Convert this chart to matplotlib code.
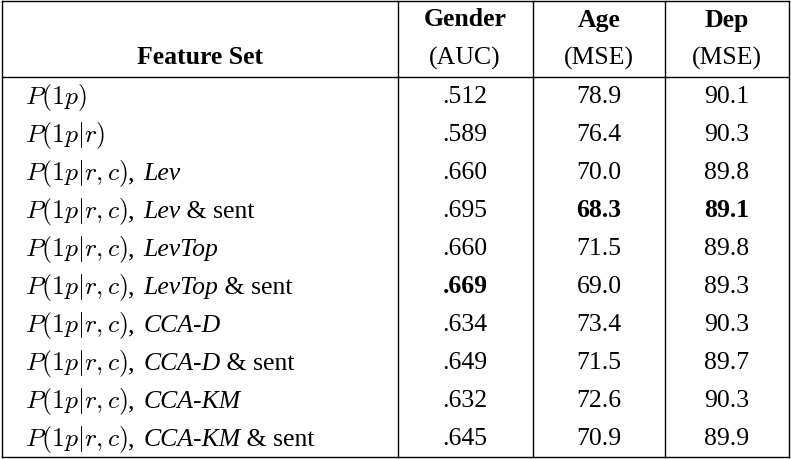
import matplotlib
matplotlib.use("Agg")
import matplotlib.pyplot as plt

plt.rcParams['font.family'] = ['Liberation Serif']
plt.rcParams['mathtext.fontset'] = 'cm'

math_part = [r"$P(1p)$", r"$P(1p|r)$"] + [r"$P(1p|r,c)$"] * 8
method = ["", "", "Lev", "Lev", "LevTop", "LevTop", "CCA-D", "CCA-D", "CCA-KM", "CCA-KM"]
suffix = ["", "", "", " & sent", "", " & sent", "", " & sent", "", " & sent"]
gender = [".512", ".589", ".660", ".695", ".660", ".669", ".634", ".649", ".632", ".645"]
age = ["78.9", "76.4", "70.0", "68.3", "71.5", "69.0", "73.4", "71.5", "72.6", "70.9"]
dep = ["90.1", "90.3", "89.8", "89.1", "89.8", "89.3", "90.3", "89.7", "90.3", "89.9"]
bold = {(0, 5), (1, 3), (2, 3)}

fig = plt.figure(figsize=(7.91, 4.60), dpi=100)
ax = fig.add_axes([0, 0, 1, 1])
ax.set_xlim(0, 791); ax.set_ylim(460, 0); ax.axis('off')
lw = 1.0
for y in [2, 78, 458]:
    ax.plot([2, 789], [y, y], color='black', lw=lw)
for x in [2, 398, 533, 665, 789]:
    ax.plot([x, x], [2, 458], color='black', lw=lw)

fs = 18.5
ax.text(200, 58, "Feature Set", ha='center', va='center', fontsize=fs, fontweight='bold')
cx = [465, 599, 727]
for c, (h, s) in enumerate([("Gender", "(AUC)"), ("Age", "(MSE)"), ("Dep", "(MSE)")]):
    ax.text(cx[c], 20, h, ha='center', va='center', fontsize=fs, fontweight='bold')
    ax.text(cx[c], 58, s, ha='center', va='center', fontsize=fs)

fig.canvas.draw()
r = fig.canvas.get_renderer()

def place(x, y, s, **kw):
    t = ax.text(x, y, s, ha='left', va='baseline', fontsize=fs, **kw)
    bb = t.get_window_extent(renderer=r)
    return x + bb.width  # 1 px per data unit

for i in range(10):
    y = 97 + i * 38
    base = y + 7
    x = place(25, base, math_part[i])
    if method[i]:
        x = place(x, base, ", ")
        x = place(x + 2, base, method[i], fontstyle='italic')
        if suffix[i]:
            place(x, base, suffix[i])
    for c, col in enumerate([gender, age, dep]):
        ax.text(cx[c], y, col[i], ha='center', va='center', fontsize=fs,
                fontweight='bold' if (c, i) in bold else 'normal')
fig.savefig("out.png", dpi=100)
